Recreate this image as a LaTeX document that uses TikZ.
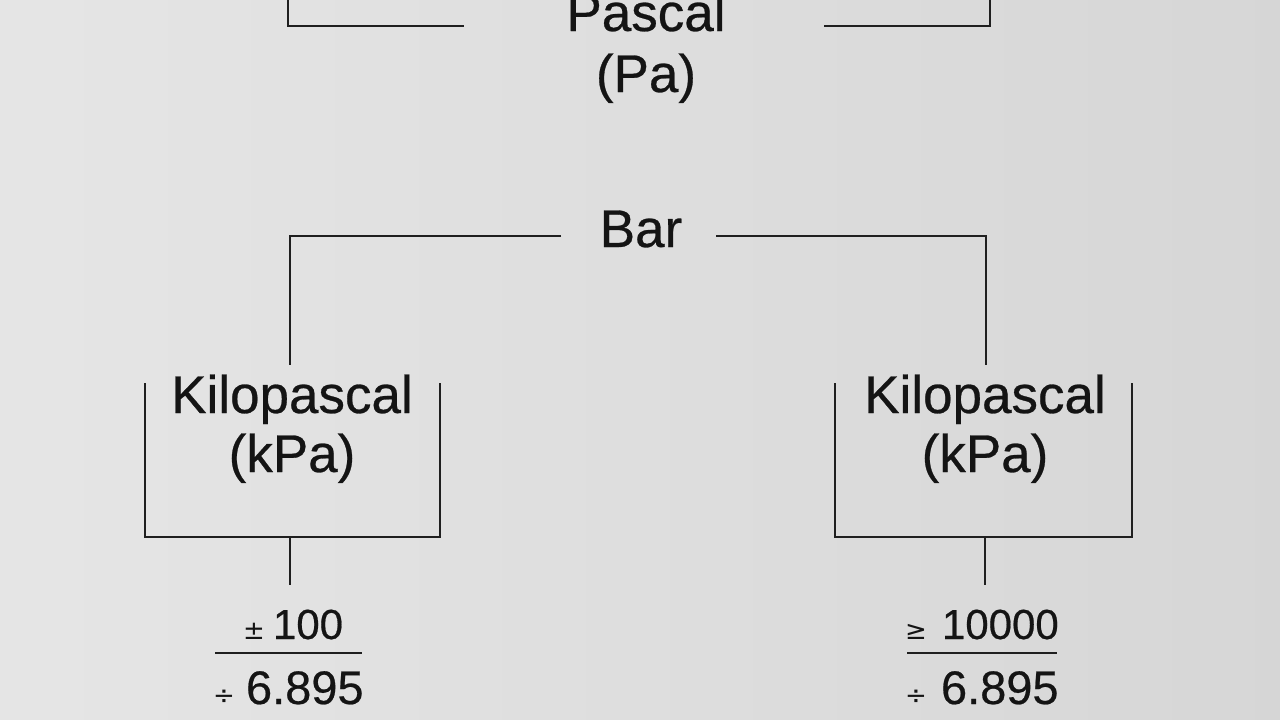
\documentclass[tikz,border=0pt]{standalone}
\usepackage{fontspec}
\setmainfont{Liberation Sans}
\newfontfamily\lblfont{Liberation Sans}[UprightFeatures={FakeBold=0.5}]
\newfontfamily\symfont{DejaVu Sans}
\begin{document}
\begin{tikzpicture}[x=1pt,y=-1pt,
  lbl/.style={inner sep=0pt,anchor=base,font=\lblfont\fontsize{53}{53}\selectfont,text=black!92},
  num/.style={inner sep=0pt,anchor=base west,text=black!92,font=\lblfont},
  ln/.style={line width=2.8pt,draw=black!88}]
\shade[left color=black!10,right color=black!16] (0,0) rectangle (1280,720);
\useasboundingbox (0,0) rectangle (1280,720);
% top
\node[lbl] (pascal) at (646,31) {Pascal};
\node[lbl] (pa) at (646,92) {(Pa)};
\coordinate (t1) at (288,0);
\coordinate (t2) at (464,26);
\coordinate (t3) at (824,26);
\coordinate (t4) at (990,0);
\draw[ln] (t1) |- (t2);
\draw[ln] (t3) -| (t4);
% bar
\node[lbl] (bar) at (641,247) {Bar};
\coordinate (b1) at (561,236);
\coordinate (b2) at (716,236);
\coordinate (kl) at (290,365);
\coordinate (kr) at (986,365);
\draw[ln] (b1) -| (kl);
\draw[ln] (b2) -| (kr);
% left box
\node[lbl] (k1) at (292,413) {Kilopascal};
\node[lbl] (k1b) at (292,472) {(kPa)};
\coordinate (l1) at (145,383);
\coordinate (l2) at (440,383);
\draw[ln] (l1) |- (292,537) -| (l2);
\coordinate (ls) at (290,537);
\coordinate (le) at (290,585);
\draw[ln] (ls) -- (le);
% right box
\node[lbl] (k2) at (985,413) {Kilopascal};
\node[lbl] (k2b) at (985,472) {(kPa)};
\coordinate (r1) at (835,383);
\coordinate (r2) at (1132,383);
\draw[ln] (r1) |- (985,537) -| (r2);
\coordinate (rs) at (985,537);
\coordinate (re) at (985,585);
\draw[ln] (rs) -- (re);
% left fraction
\node[num] (ln1) at (243,639) {{\symfont\fontsize{26}{26}\selectfont ±}\hspace{8pt}{\fontsize{42}{42}\selectfont 100}};
\coordinate (lf1) at (215,653);
\coordinate (lf2) at (362,653);
\draw[ln] (lf1) -- (lf2);
\node[num] (ld1) at (213,704) {{\symfont\fontsize{26}{26}\selectfont ÷}\hspace{11pt}{\fontsize{47}{47}\selectfont 6.895}};
% right fraction
\node[num] (rn1) at (905,639) {{\symfont\fontsize{26}{26}\selectfont ≥}\hspace{15pt}{\fontsize{42}{42}\selectfont 10000}};
\coordinate (rf1) at (907,653);
\coordinate (rf2) at (1057,653);
\draw[ln] (rf1) -- (rf2);
\node[num] (rd1) at (905,704) {{\symfont\fontsize{26}{26}\selectfont ÷}\hspace{14pt}{\fontsize{47}{47}\selectfont 6.895}};
\end{tikzpicture}
\end{document}
